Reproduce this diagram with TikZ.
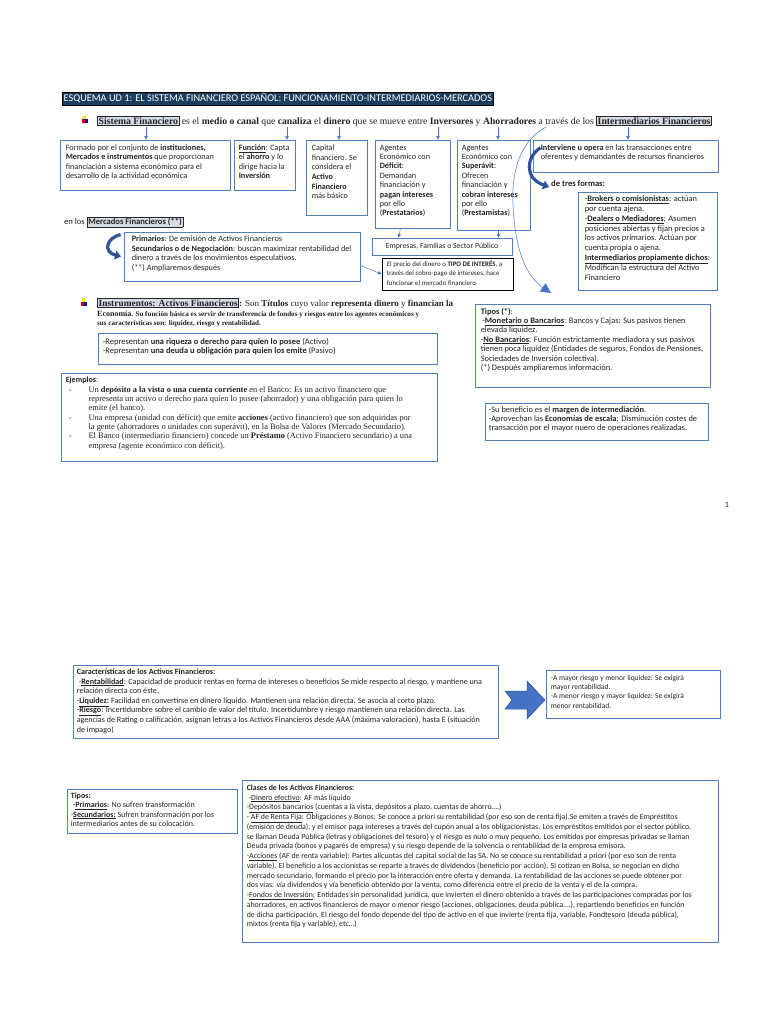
\documentclass[tikz,border=0pt]{standalone}
\usepackage{fontspec}
\setmainfont{Carlito}
\newfontfamily\serf{Liberation Serif}
\usetikzlibrary{arrows.meta,fit}
\definecolor{bxc}{RGB}{79,129,189}
\definecolor{arc}{RGB}{68,114,196}
\definecolor{dkarc}{RGB}{46,84,150}
\definecolor{ttl}{RGB}{28,62,94}
\definecolor{hlc}{RGB}{214,219,229}
\definecolor{txc}{RGB}{35,35,35}
\newcommand\bu[1]{\underline{\textbf{#1}}}
\newcommand\un[1]{\underline{#1}}
\newcommand\hlb[1]{{\setlength{\fboxsep}{0.8pt}\setlength{\fboxrule}{0.7pt}\fcolorbox{black!85}{hlc}{#1}}}
\newcommand\fs[2]{\fontsize{#1}{#2}\selectfont}
\begin{document}
\begin{tikzpicture}[x=1pt,y=-1pt]
\tikzset{
 bx/.style={draw=bxc, line width=0.8pt, inner sep=0pt, fill=white},
 bkbx/.style={draw=black, line width=0.8pt, inner sep=0pt, fill=white},
 tx/.style={anchor=north west, inner sep=0pt, align=left, text=txc},
 ln/.style={anchor=base west, inner sep=0pt, text=txc},
 ar/.style={draw=arc, line width=0.45pt, -{Triangle[length=3.5pt,width=3.5pt]}},
 thk/.style={draw=dkarc, line width=3.2pt, -{Triangle[length=6pt,width=9pt]}},
}
\path[fill=white, use as bounding box] (0,0) rectangle (768,1024);

% title
\node[fill=ttl, draw=black, line width=0.4pt, text=white, anchor=west, inner xsep=1.5pt, inner ysep=0pt, minimum height=13pt, font=\fs{10.3}{11}] (title) at (62,98.5) {ESQUEMA UD 1: EL SISTEMA FINANCIERO ESPAÑOL: FUNCIONAMIENTO-INTERMEDIARIOS-MERCADOS};

% bullet 1
\fill[yellow!85!orange] (83,116) rectangle (86,119.5);
\fill[red!80!black] (81.5,119.5) rectangle (85,123.5);
\fill[blue!70!black] (85,119.5) rectangle (88,123.5);

\node[ln, font=\serf\fs{9.7}{11}] (l1) at (97,124.5) {\hlb{\textbf{Sistema Financiero}} es el \textbf{medio o canal} que \textbf{canaliza} el \textbf{dinero} que se mueve entre \textbf{Inversores} y \textbf{Ahorradores} a través de los \hlb{\textbf{Intermediarios Financieros}}};

% boxes row
\node[bx, fit={(60,140)(230,190)}] (b1) {};
\node[bx, fit={(234,140)(295,190)}] (b2) {};
\node[bx, fit={(306,140)(367,215)}] (b3) {};
\node[bx, fit={(375,140)(450,228)}] (b4) {};
\node[bx, fit={(457,140)(530,230)}] (b5) {};
\node[bx, fit={(533,140)(718,172)}] (b6) {};
\node[bx, fit={(578,192)(717,290)}] (b7) {};

\node[tx, font=\fs{8.2}{9.3}] (t1) at ([shift={(6,5)}]b1.north west) {Formado por el conjunto de \textbf{instituciones,}\\ \textbf{Mercados e instrumentos} que proporcionan\\ financiación a sistema económico para el\\ desarrollo de la actividad económica};
\node[tx, font=\fs{8.2}{9.3}] (t2) at ([shift={(5,5)}]b2.north west) {\bu{Función}: Capta\\ el \textbf{ahorro} y lo\\ dirige hacia la\\ \textbf{Inversión}};
\node[tx, font=\fs{8.1}{9.7}] (t3) at ([shift={(6,5)}]b3.north west) {Capital\\ financiero. Se\\ considera el\\ \textbf{Activo}\\ \textbf{Financiero}\\ más básico};
\node[tx, font=\fs{8.2}{9.4}] (t4) at ([shift={(5,5)}]b4.north west) {Agentes\\ Económico con\\ \textbf{Déficit}:\\ Demandan\\ financiación y\\ \textbf{pagan intereses}\\ por ello\\ (\textbf{Prestatarios})};
\node[tx, font=\fs{8.2}{9.4}] (t5) at ([shift={(5,5)}]b5.north west) {Agentes\\ Económico con\\ \textbf{Superávit}:\\ Ofrecen\\ financiación y\\ \textbf{cobran intereses}\\ por ello\\ (\textbf{Prestamistas})};
\node[tx, font=\fs{8.2}{9.4}] (t6) at ([shift={(8,5)}]b6.north west) {\textbf{Interviene u opera} en las transacciones entre\\ oferentes y demandantes de recursos financieros};
\node[anchor=west, inner sep=0pt, text=txc, font=\bfseries\fs{8.6}{9}] (tres) at (551,183.5) {de tres formas:};
\node[tx, font=\fs{8.4}{9.8}] (t7) at ([shift={(7,4)}]b7.north west) {-\bu{Brokers o comisionistas}: actúan\\ por cuenta ajena.\\ -\bu{Dealers o Mediadores}: Asumen\\ posiciones abiertas y fijan precios a\\ los activos primarios. Actúan por\\ cuenta propia o ajena.\\ \bu{Intermediarios propiamente dichos}:\\ Modifican la estructura del Activo\\ Financiero};

% mercados
\node[ln, font=\fs{8.6}{9}] (enlos) at (64,225) {en los \hlb{\textbf{Mercados Financieros (**)}}};
\node[bx, fit={(124,232)(360,281)}] (bP) {};
\node[tx, font=\fs{8.2}{9.6}] (tP) at ([shift={(8,4)}]bP.north west) {\textbf{Primarios}: De emisión de Activos Financieros\\ \textbf{Secundarios o de Negociación}: buscan maximizar rentabilidad del\\ dinero a través de los movimientos especulativos.\\ (**) Ampliaremos después};
\node[bx, fit={(372,238)(512,255)}] (bE) {};
\node[text=txc, inner sep=0pt, font=\fs{7.8}{9}] (tE) at (bE.center) {Empresas, Familias o Sector Público};
\node[bkbx, fit={(382,258)(513,290)}] (bT) {};
\node[tx, font=\fs{6.9}{9.5}] (tT) at ([shift={(5,2.5)}]bT.north west) {El precio del dinero o \textbf{TIPO DE INTERÉS}, a\\ través del cobro-pago de intereses, hace\\ funcionar el mercado financiero};

% instrumentos
\fill[yellow!85!orange] (82,298) rectangle (85,301.5);
\fill[red!80!black] (80.5,301.5) rectangle (84,305.5);
\fill[blue!70!black] (84,301.5) rectangle (87,305.5);
\node[ln, font=\serf\fs{9}{11}] (ins1) at (97,306) {\hlb{\fs{9.4}{11}\textbf{Instrumentos: Activos Financieros}}\textbf{:} Son \textbf{Títulos} cuyo valor \textbf{representa dinero} y \textbf{financian la}};
\node[ln, font=\serf\bfseries\fs{7.1}{9}] (ins2) at (97,316) {{\fs{8}{9}Economía}. Su función básica es servir de transferencia de fondos y riesgos entre los agentes económicos y};
\node[ln, font=\serf\bfseries\fs{7.1}{9}] (ins3) at (97,325) {sus características son: liquidez, riesgo y rentabilidad.};
\node[bx, fit={(98,333)(437,364)}] (bR) {};
\node[tx, font=\fs{8.5}{9.8}] (tR) at ([shift={(5,5)}]bR.north west) {-Representan \textbf{una riqueza o derecho para quien lo posee} (Activo)\\ -Representan \textbf{una deuda u obligación para quien los emite} (Pasivo)};

% tipos (*)
\node[bx, fit={(475,304)(710,387)}] (bTi) {};
\node[tx, font=\fs{8.4}{9.4}] (tTi) at ([shift={(6,4)}]bTi.north west) {\textbf{Tipos (*)}:\\ \hspace*{1.5pt}-\bu{Monetario o Bancarios}: Bancos y Cajas: Sus pasivos tienen\\ elevada liquidez.\\ -\bu{No Bancarios}: Función estrictamente mediadora y sus pasivos\\ tienen poca liquidez (Entidades de seguros, Fondos de Pensiones,\\ Sociedades de Inversión colectiva).\\ (*) Después ampliaremos información.};
\node[bx, fit={(485,403)(708,440)}] (bM) {};
\node[tx, font=\fs{8.4}{9}] (tM) at ([shift={(4,4)}]bM.north west) {-Su beneficio es el \textbf{margen de intermediación}.\\ -Aprovechan las \textbf{Economías de escala}: Disminución costes de\\ transacción por el mayor nuero de operaciones realizadas.};

% ejemplos
\node[bx, fit={(61,373)(437,461)}] (bEj) {};
\node[tx, font=\bfseries\fs{8}{9}] (tEj0) at ([shift={(5,4)}]bEj.north west) {Ejemplos\mdseries:};
\node[tx, font=\serf\fs{8.4}{9.3}] (tEj) at ([shift={(8,13.5)}]bEj.north west) {-\hspace*{17pt}Un \textbf{depósito a la vista o una cuenta corriente} en el Banco: Es un activo financiero que\\ \hspace*{19.8pt}representa un activo o derecho para quien lo posee (ahorrador) y una obligación para quien lo\\ \hspace*{19.8pt}emite (el banco).\\ -\hspace*{17pt}Una empresa (unidad con déficit) que emite \textbf{acciones} (activo financiero) que son adquiridas por\\ \hspace*{19.8pt}la gente (ahorradores o unidades con superávit), en la Bolsa de Valores (Mercado Secundario).\\ -\hspace*{17pt}El Banco (intermediario financiero) concede un \textbf{Préstamo} (Activo Financiero secundario) a una\\ \hspace*{19.8pt}empresa (agente económico con déficit).};

\node[inner sep=0pt, text=txc, font=\fs{8}{9}] (pg) at (727,505) {1};

% caracteristicas
\node[bx, fit={(73,665)(498,738)}] (bC) {};
\node[tx, font=\fs{8.1}{9.6}] (tC) at ([shift={(4,4)}]bC.north west) {\textbf{Características de los Activos Financieros:}\\ \hspace*{2pt}-\bu{Rentabilidad}: Capacidad de producir rentas en forma de intereses o beneficios Se mide respecto al riesgo, y mantiene una\\ relación directa con éste.\\ -\bu{Liquidez:} Facilidad en convertirse en dinero líquido. Mantienen una relación directa. Se asocia al corto plazo.\\ -\bu{Riesgo}: Incertidumbre sobre el cambio de valor del título. Incertidumbre y riesgo mantienen una relación directa. Las\\ agencias de Rating o calificación, asignan letras a los Activos Financieros desde AAA (máxima valoración), hasta E (situación\\ de impago)};
\node[bx, fit={(546,670)(720,718)}] (bA) {};
\node[tx, font=\fs{7.5}{9.4}] (tA) at ([shift={(5,5)}]bA.north west) {-A mayor riesgo y menor liquidez: Se exigirá\\ mayor rentabilidad.\\ -A menor riesgo y mayor liquidez: Se exigirá\\ menor rentabilidad.};
\filldraw[fill=arc, draw=dkarc, line width=0.5pt] (505,691) -- (527,691) -- (527,681) -- (545,700) -- (527,719) -- (527,709) -- (505,709) -- (512,700) -- cycle;

% tipos bottom
\node[bx, fit={(67,789)(237,833)}] (bTb) {};
\node[tx, font=\fs{8}{9.3}] (tTb) at ([shift={(4,4)}]bTb.north west) {\textbf{Tipos:}\\ \hspace*{2pt}-\bu{Primarios}: No sufren transformación\\ -\bu{Secundarios:} Sufren transformación por los\\ intermediarios antes de su colocación.};

% clases
\node[bx, fit={(242,780)(718,942)}] (bCl) {};
\node[tx, font=\fs{7.85}{9.75}] (tCl) at ([shift={(5,5)}]bCl.north west) {\textbf{Clases de los Activos Financieros:}\\ \hspace*{2pt}-\un{Dinero efectivo}: AF más líquido\\ -\un{Depósitos bancarios} (cuentas a la vista, depósitos a plazo, cuentas de ahorro….)\\ - \un{AF de Renta Fija}: Obligaciones y Bonos: Se conoce a priori su rentabilidad (por eso son de renta fija).Se emiten a través de Empréstitos\\ (emisión de deuda), y el emisor paga intereses a través del cupón anual a los obligacionistas. Los empréstitos emitidos por el sector público,\\ se llaman Deuda Pública (letras y obligaciones del tesoro) y el riesgo es nulo o muy pequeño. Los emitidos por empresas privadas se llaman\\ Deuda privada (bonos y pagarés de empresa) y su riesgo depende de la solvencia o rentabilidad de la empresa emisora.\\ -\un{Acciones} (AF de renta variable): Partes alícuotas del capital social de las SA. No se conoce su rentabilidad a priori (por eso son de renta\\ variable). El beneficio a los accionistas se reparte a través de dividendos (beneficio por acción). Si cotizan en Bolsa, se negocian en dicho\\ mercado secundario, formando el precio por la interacción entre oferta y demanda. La rentabilidad de las acciones se puede obtener por\\ dos vías: vía dividendos y vía beneficio obtenido por la venta, como diferencia entre el precio de la venta y el de la compra.\\ -\un{Fondos de Inversión}: Entidades sin personalidad jurídica, que invierten el dinero obtenido a través de las participaciones compradas por los\\ ahorradores, en activos financieros de mayor o menor riesgo (acciones, obligaciones, deuda pública….), repartiendo beneficios en función\\ de dicha participación. El riesgo del fondo depende del tipo de activo en el que invierte (renta fija, variable, Fondtesoro (deuda pública),\\ mixtos (renta fija y variable), etc…)};

% connectors from line 1
\coordinate (s1) at (146,127);
\coordinate (s2) at (287,127);
\coordinate (s3) at (339,127);
\coordinate (s4) at (438,127);
\coordinate (s5) at (498,127);
\coordinate (s6) at (628,127);
\coordinate (s7) at (546,127);
\draw[ar] (s1) -- (s1 |- b1.north);
\draw[ar] (s2) -- (s2 |- b2.north);
\draw[ar] (s3) -- (s3 |- b3.north);
\draw[ar] (s4) -- (s4 |- b4.north);
\draw[ar] (s5) -- (s5 |- b5.north);
\draw[ar] (s6) -- (s6 |- b6.north);
\coordinate (c7) at (551,293);
\draw[draw=arc, line width=0.5pt, -{Triangle[length=10pt,width=10pt]}] (s7) .. controls (522,140) and (511,168) .. (513,205) .. controls (515,250) and (526,276) .. (c7);
\draw[ar] ([xshift=-12pt]b4.south) -- ([xshift=-14pt]b4.south |- bE.north);
\draw[ar] ([xshift=5pt]b5.south) -- ([xshift=5pt]b5.south |- bE.north);
\draw[ar] ([yshift=-9pt]bP.east) -- (bT.west);
\coordinate (k1) at (549,187);
\draw[thk] ([shift={(8,8)}]b6.north west) .. controls (526,157) and (524,178) .. (k1);
\coordinate (k2) at (121,256.5);
\draw[thk] ([shift={(-3,3)}]bP.north west) .. controls (106,238) and (103,252) .. (k2);
\end{tikzpicture}
\end{document}
